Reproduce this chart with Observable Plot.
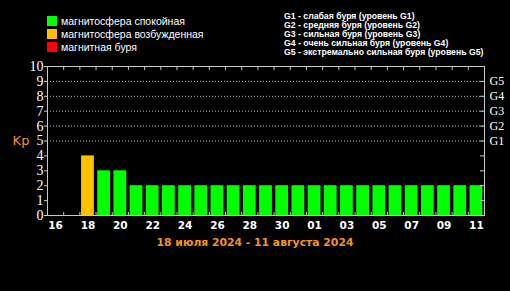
<!DOCTYPE html>
<html><head><meta charset="utf-8">
<script src="https://cdn.jsdelivr.net/npm/d3@7"></script>
<script src="https://cdn.jsdelivr.net/npm/@observablehq/plot@0.6"></script>
<style>
html,body{margin:0;padding:0;background:#000;overflow:hidden}
#wrap{position:relative;width:510px;height:291px;background:#000}
#chart{position:absolute;left:0;top:0}
#legend{position:absolute;left:47px;top:14px;font:10.5px "Liberation Sans";color:#fff}
.li{display:flex;align-items:center;height:13px}
.sw{width:10px;height:10px;margin-right:4px}
#glegend{position:absolute;left:284px;top:12px;font:bold 8.7px "Liberation Sans";color:#fff;line-height:9px;white-space:pre}
#title{position:absolute;left:0;width:510px;top:236px;text-align:center;font:bold 10.8px "DejaVu Sans";color:#f7931e}
</style></head>
<body>
<div id="wrap">
  <div id="chart"></div>
  <div id="legend"></div>
  <div id="glegend"></div>
  <div id="title"></div>
</div>
<script>
const dates = ["2024-07-16","2024-07-17","2024-07-18","2024-07-19","2024-07-20","2024-07-21","2024-07-22","2024-07-23","2024-07-24","2024-07-25","2024-07-26","2024-07-27","2024-07-28","2024-07-29","2024-07-30","2024-07-31","2024-08-01","2024-08-02","2024-08-03","2024-08-04","2024-08-05","2024-08-06","2024-08-07","2024-08-08","2024-08-09","2024-08-10","2024-08-11"];
const kp = [null,null,4,3,3,2,2,2,2,2,2,2,2,2,2,2,2,2,2,2,2,2,2,2,2,2,2];
const xTickDates = ["2024-07-16","2024-07-18","2024-07-20","2024-07-22","2024-07-24","2024-07-26","2024-07-28","2024-07-30","2024-08-01","2024-08-03","2024-08-05","2024-08-07","2024-08-09","2024-08-11"];
const yTicks = [0,1,2,3,4,5,6,7,8,9,10];
const gLevels = [5,6,7,8,9];
const gLabels = ["G1","G2","G3","G4","G5"];
const statusNames = ["магнитосфера спокойная","магнитосфера возбужденная","магнитная буря"];
const statusColors = ["#00ff00","#ffc000","#ff0000"];
const gDescriptions = ["G1 - слабая буря (уровень G1)","G2 - средняя буря (уровень G2)","G3 - сильная буря (уровень G3)","G4 - очень сильная буря (уровень G4)","G5 - экстремально сильная буря (уровень G5)"];
const titleText = "18 июля 2024 - 11 августа 2024";
const kpLabel = "Kp";
const orange = "#f7931e";

const data = dates.map((d, i) => {
  const start = new Date(d);
  const v = kp[i];
  return {start, end: d3.utcDay.offset(start, 1), kp: v,
    status: v == null ? null : v >= 5 ? statusNames[2] : v >= 4 ? statusNames[1] : statusNames[0]};
});
const xStart = data[0].start, xEnd = data[data.length - 1].end;
const boundaries = d3.utcDays(d3.utcDay.offset(xStart, 1), xEnd);
const labelNoons = xTickDates.map(d => d3.utcHour.offset(new Date(d), 12));

const chart = Plot.plot({
  width: 510, height: 291,
  marginLeft: 47, marginRight: 26, marginTop: 66, marginBottom: 76,
  style: {background: "transparent", color: "#fff"},
  x: {type: "utc", domain: [xStart, xEnd], label: null},
  y: {domain: [0, 10], label: null},
  color: {domain: statusNames, range: statusColors},
  marks: [
    Plot.ruleY(gLevels, {stroke: "#bbbbbb", strokeDasharray: "1,2"}),
    Plot.rectY(data, {x1: "start", x2: "end", y: "kp", fill: "status", insetLeft: 1.7, insetRight: 1.7}),
    Plot.frame({stroke: "#c8c8c8"}),
    Plot.axisX({anchor: "top", ticks: boundaries, tickSize: -3, tickFormat: () => "", stroke: "#c8c8c8"}),
    Plot.axisX({anchor: "bottom", ticks: boundaries, tickSize: -3, tickFormat: () => "", stroke: "#c8c8c8"}),
    Plot.axisX({anchor: "bottom", ticks: labelNoons, tickSize: 0, tickPadding: 6, tickFormat: d3.utcFormat("%d"),
      fontFamily: "DejaVu Sans", fontWeight: "bold", fontSize: 10.5, fill: "#fff"}),
    Plot.axisY({anchor: "left", ticks: yTicks, tickSize: 3, tickPadding: 1, fontFamily: "Liberation Serif", fontSize: 14, fill: "#fff", stroke: "#c8c8c8"}),
    Plot.axisY({anchor: "right", ticks: yTicks, tickSize: -5, tickFormat: () => "", stroke: "#c8c8c8"}),
    Plot.axisY({anchor: "right", ticks: gLevels, tickSize: 0, tickPadding: 5, tickFormat: d => gLabels[gLevels.indexOf(d)],
      fontFamily: "Liberation Serif", fontSize: 12, fill: "#fff"}),
    Plot.text([5], {y: d => d, text: () => kpLabel, frameAnchor: "left", textAnchor: "middle", dx: -26.5, fill: orange, fontSize: 13, fontFamily: "DejaVu Sans"})
  ]
});
document.getElementById("chart").appendChild(chart);

const leg = document.getElementById("legend");
statusNames.forEach((n, i) => {
  const row = document.createElement("div"); row.className = "li";
  const sw = document.createElement("span"); sw.className = "sw"; sw.style.background = statusColors[i];
  const t = document.createElement("span"); t.textContent = n;
  row.appendChild(sw); row.appendChild(t); leg.appendChild(row);
});
document.getElementById("glegend").textContent = gDescriptions.join("\n");
document.getElementById("title").textContent = titleText;
</script>
</body></html>
